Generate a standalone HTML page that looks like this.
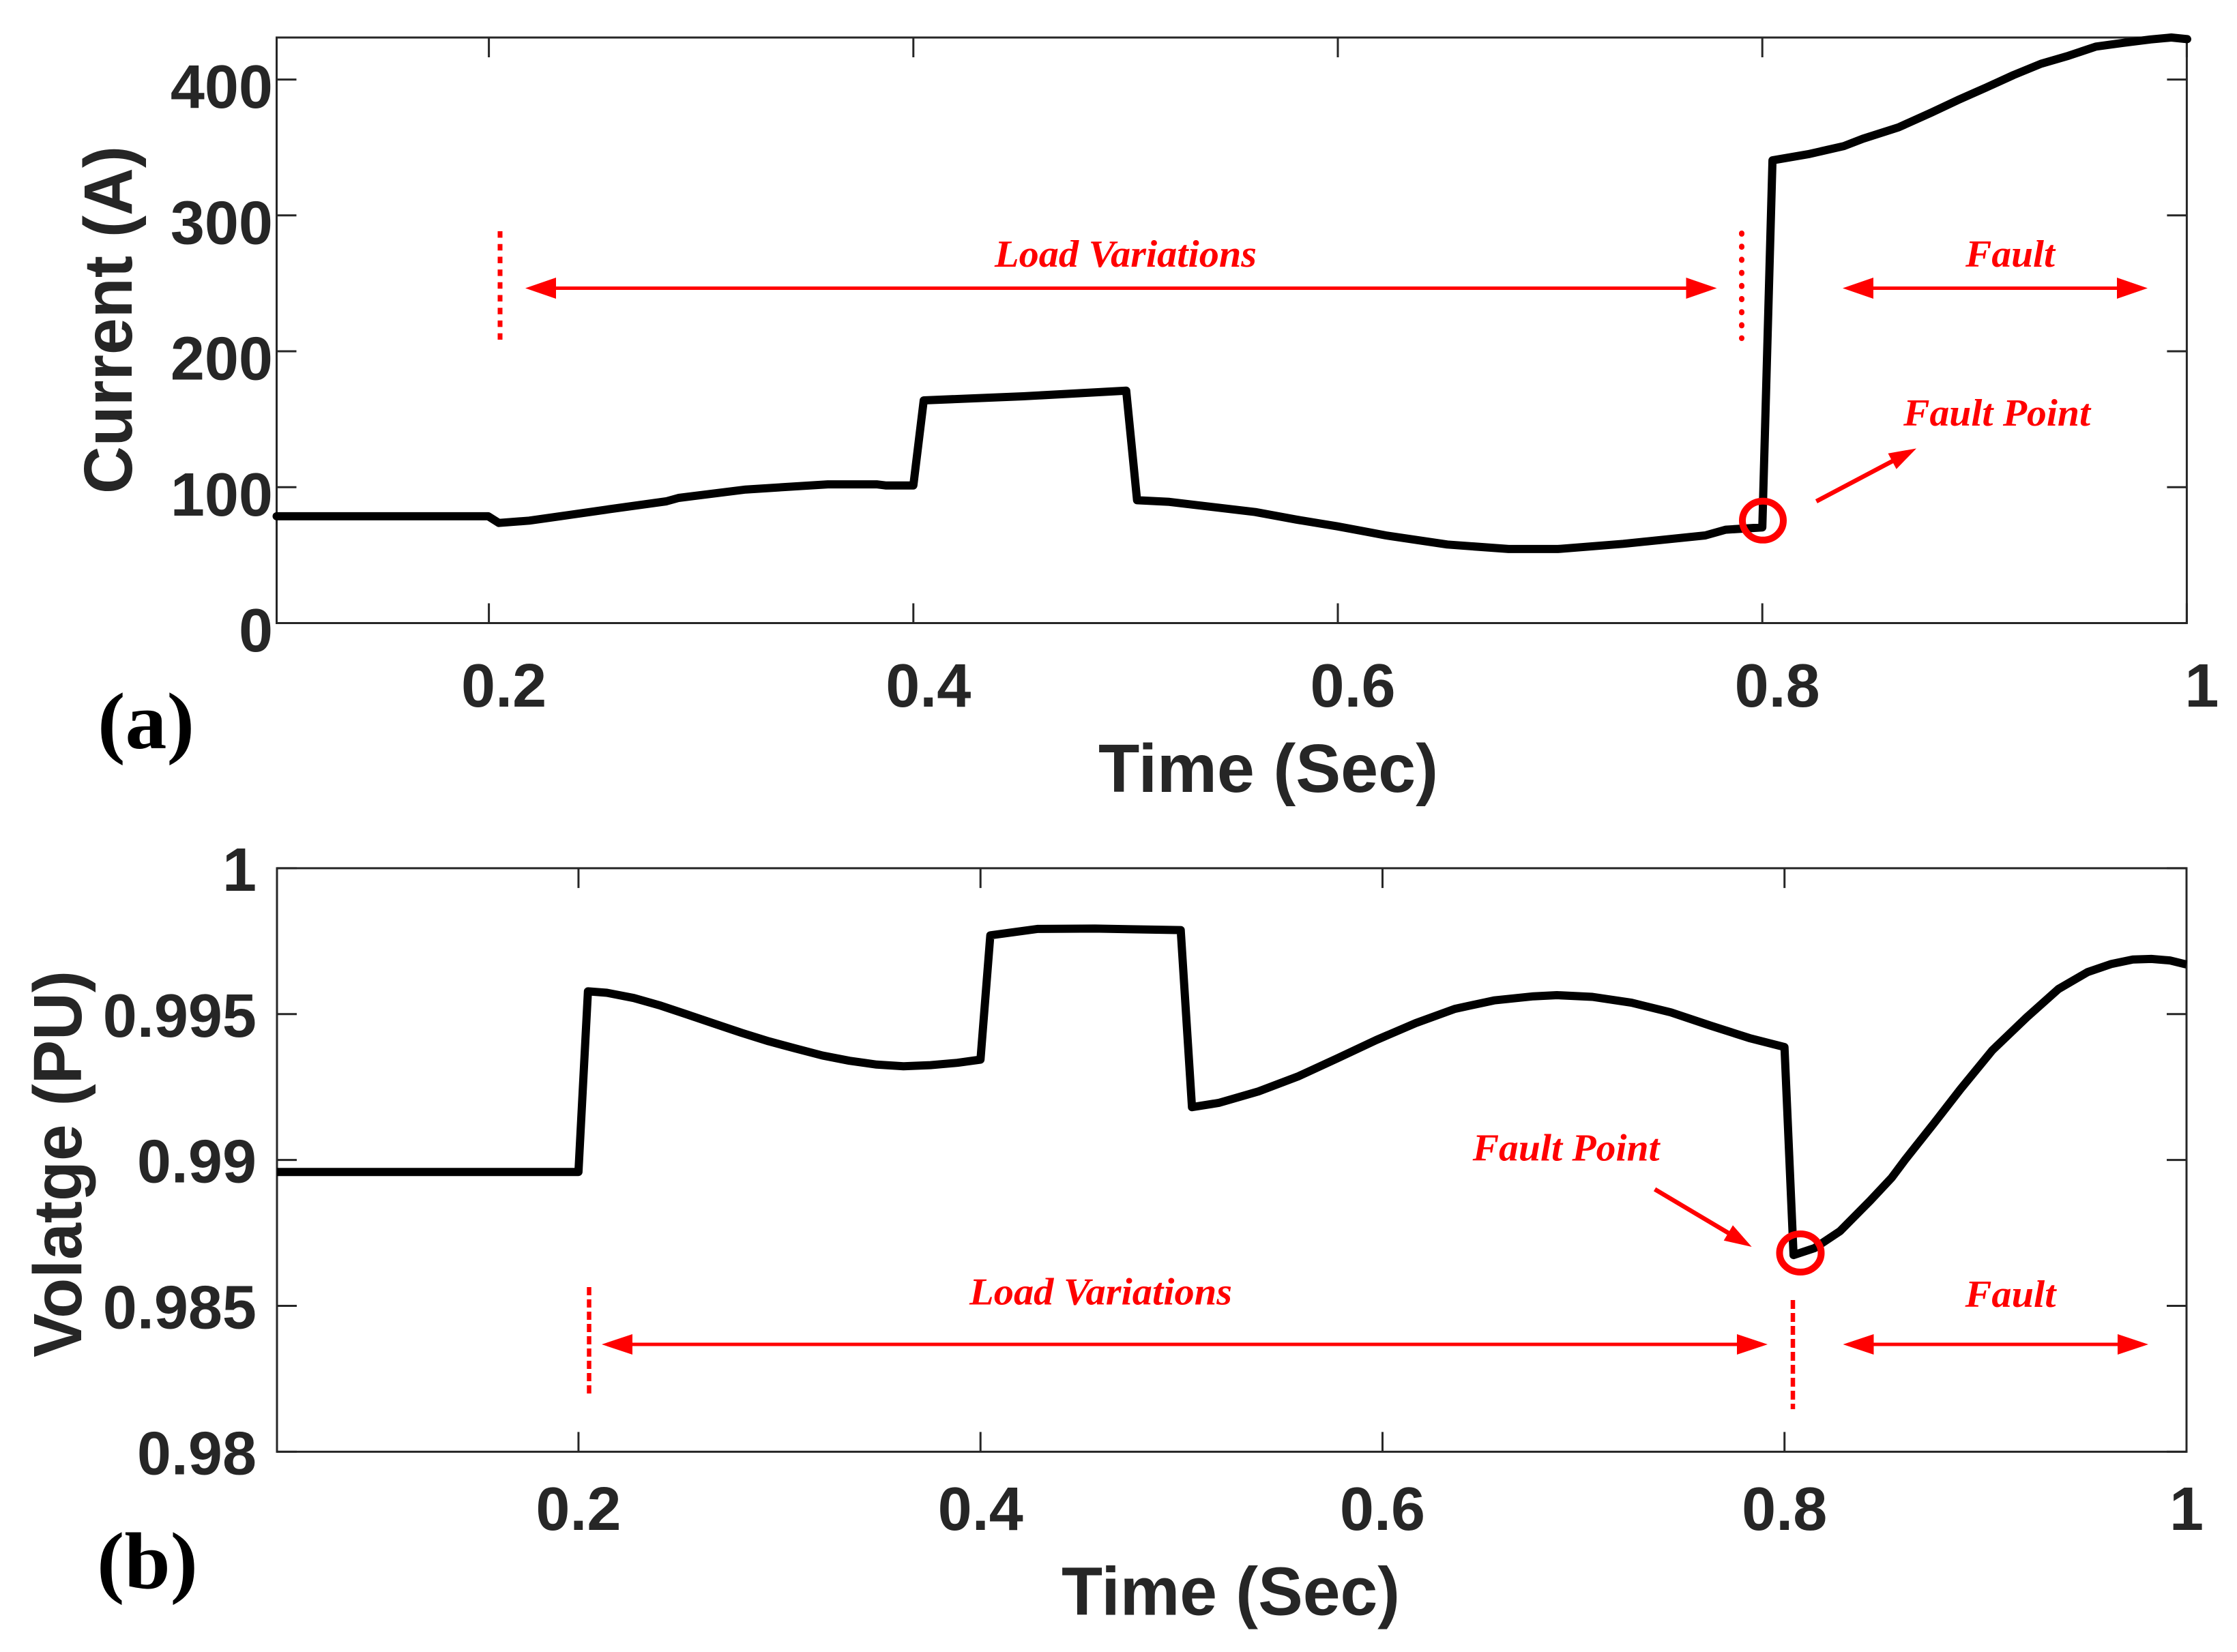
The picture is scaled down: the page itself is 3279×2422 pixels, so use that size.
<!DOCTYPE html>
<html lang="en">
<head>
<meta charset="utf-8">
<title>Current and voltage during load variations and fault</title>
<style>
  html, body { margin: 0; padding: 0; background: #fff; }
  svg { display: block; }
  .tick-label { font-family: "Liberation Sans", sans-serif; font-weight: bold; font-size: 90px; fill: #262626; }
  .axis-title { font-family: "Liberation Sans", sans-serif; font-weight: bold; font-size: 100px; fill: #262626; }
  .note { font-family: "Liberation Serif", serif; font-weight: bold; font-style: italic; font-size: 56px; fill: #ff0000; }
  .panel-tag { font-family: "Liberation Serif", serif; font-weight: bold; font-size: 118px; fill: #000; }
</style>
</head>
<body>
<svg id="figure" xmlns="http://www.w3.org/2000/svg" width="3279" height="2422" viewBox="0 0 3279 2422">
  <rect x="0" y="0" width="3279" height="2422" fill="#ffffff"/>
  <g id="panel-a"></g>
  <g id="panel-b"></g>

  <g>
    <line x1="733" y1="339" x2="733" y2="498" stroke="#f00" stroke-width="7" stroke-dasharray="9.5 9.2"/>
    <line x1="2553" y1="342" x2="2553" y2="496" stroke="#f00" stroke-width="8" stroke-linecap="round" stroke-dasharray="1 18.2"/>
    <g fill="#f00">
      <line x1="810" y1="422.5" x2="2480" y2="422.5" stroke="#f00" stroke-width="5"/>
      <polygon points="770,422.5 815,407 815,438"/>
      <polygon points="2516.5,422.5 2471.5,407 2471.5,438"/>
    </g>
    <text class="note" x="1458" y="391" textLength="384" lengthAdjust="spacingAndGlyphs">Load Variations</text>
    <g fill="#f00">
      <line x1="2740" y1="422.5" x2="3110" y2="422.5" stroke="#f00" stroke-width="5"/>
      <polygon points="2701,422.5 2746,407 2746,438"/>
      <polygon points="3148,422.5 3103,407 3103,438"/>
    </g>
    <text class="note" x="2881" y="391" textLength="131" lengthAdjust="spacingAndGlyphs">Fault</text>
    <text class="note" x="2790" y="624" textLength="274" lengthAdjust="spacingAndGlyphs">Fault Point</text>
    <g fill="#f00">
      <line x1="2662.4" y1="735" x2="2775" y2="675.5" stroke="#f00" stroke-width="6.5"/>
      <polygon points="2809,657.5 2779.7,687.7 2767.5,664.7"/>
    </g>
  </g>

  <g>
    <line x1="863.5" y1="1887" x2="863.5" y2="2046" stroke="#f00" stroke-width="6.5" stroke-dasharray="12 6"/>
    <line x1="2628" y1="1906" x2="2628" y2="2066" stroke="#f00" stroke-width="6.5" stroke-dasharray="13 6"/>
    <g fill="#f00">
      <line x1="920" y1="1971" x2="2555" y2="1971" stroke="#f00" stroke-width="5"/>
      <polygon points="882,1971 927,1956 927,1986"/>
      <polygon points="2591,1971 2546,1956 2546,1986"/>
    </g>
    <text class="note" x="1421" y="1912.5" textLength="385" lengthAdjust="spacingAndGlyphs">Load Variations</text>
    <g fill="#f00">
      <line x1="2740" y1="1971" x2="3110" y2="1971" stroke="#f00" stroke-width="5"/>
      <polygon points="2701.5,1971 2746.5,1956 2746.5,1986"/>
      <polygon points="3149,1971 3104,1956 3104,1986"/>
    </g>
    <text class="note" x="2880.5" y="1916" textLength="133" lengthAdjust="spacingAndGlyphs">Fault</text>
    <text class="note" x="2158.6" y="1701.4" textLength="274" lengthAdjust="spacingAndGlyphs">Fault Point</text>
    <g fill="#f00">
      <line x1="2425.6" y1="1743.6" x2="2536" y2="1809.2" stroke="#f00" stroke-width="6.5"/>
      <polygon points="2567.7,1828 2526.7,1818.8 2540,1796.4"/>
    </g>
  </g>

  <text class="panel-tag" x="143" y="1097" textLength="142" lengthAdjust="spacingAndGlyphs">(a)</text>
  <text class="panel-tag" x="142" y="2328" textLength="148" lengthAdjust="spacingAndGlyphs">(b)</text>
</svg>

<script>
// Panel (a): current
const currentTimes = [0.1, 0.1997, 0.2047, 0.219, 0.2377, 0.2564, 0.2836, 0.2894, 0.321, 0.3597, 0.3827, 0.3869, 0.4, 0.4049, 0.4518, 0.5003, 0.5054, 0.5206, 0.5611, 0.5803, 0.5996, 0.6131, 0.6227, 0.6516, 0.6805, 0.7037, 0.7345, 0.7731, 0.7827, 0.8, 0.8048, 0.8216, 0.8384, 0.8474, 0.8642, 0.8797, 0.8926, 0.9055, 0.9184, 0.9313, 0.9443, 0.9572, 0.9701, 0.983, 0.9927, 1.0002];
const currentValues = [78.6, 78.6, 73.7, 75.4, 79.5, 83.7, 89.6, 92.1, 98.3, 102.1, 102.1, 101.3, 101.3, 163.9, 166.9, 171, 90.4, 89.2, 81.7, 76.2, 71.2, 67.3, 64.5, 57.8, 54.5, 54.5, 58.3, 64.5, 68.7, 70.4, 340.5, 345, 351, 356.4, 364.8, 375.7, 385.2, 394.1, 403.3, 411.6, 417.5, 424.2, 427, 429.5, 430.9, 429.7];
const currentXTicks = [0.2, 0.4, 0.6, 0.8, 1];
const currentXTickLabels = ['0.2', '0.4', '0.6', '0.8', '1'];
const currentYTicks = [0, 100, 200, 300, 400];
const currentYTickLabels = ['0', '100', '200', '300', '400'];

// Panel (b): voltage
const voltageTimes = [0.05, 0.2, 0.2047, 0.2141, 0.2275, 0.2409, 0.2543, 0.2677, 0.2811, 0.2946, 0.308, 0.3214, 0.3348, 0.3483, 0.3617, 0.3751, 0.3885, 0.4, 0.4049, 0.4283, 0.4569, 0.4996, 0.5052, 0.5188, 0.5383, 0.5579, 0.5774, 0.5969, 0.6165, 0.636, 0.6555, 0.6751, 0.6868, 0.7044, 0.7239, 0.7434, 0.763, 0.7825, 0.8, 0.8045, 0.815, 0.8276, 0.8427, 0.8533, 0.8599, 0.8744, 0.8876, 0.9034, 0.9205, 0.9363, 0.9508, 0.9627, 0.9733, 0.9825, 0.9917, 1];
const voltageValues = [0.98959, 0.98959, 0.99578, 0.99573, 0.99555, 0.99529, 0.99498, 0.99467, 0.99436, 0.99407, 0.99382, 0.99358, 0.9934, 0.99327, 0.99321, 0.99325, 0.99333, 0.99344, 0.9977, 0.99792, 0.99793, 0.99788, 0.99181, 0.99196, 0.99235, 0.99286, 0.99348, 0.99411, 0.99469, 0.99518, 0.99547, 0.99561, 0.99565, 0.99559, 0.99539, 0.99506, 0.99461, 0.99418, 0.99387, 0.98674, 0.98698, 0.98756, 0.98861, 0.98939, 0.99, 0.99126, 0.99243, 0.99376, 0.99489, 0.99586, 0.99644, 0.99672, 0.99687, 0.99689, 0.99684, 0.9967];
const voltageXTicks = [0.2, 0.4, 0.6, 0.8, 1];
const voltageXTickLabels = ['0.2', '0.4', '0.6', '0.8', '1'];
const voltageYTicks = [0.98, 0.985, 0.99, 0.995, 1];
const voltageYTickLabels = ['0.98', '0.985', '0.99', '0.995', '1'];

const SVG_NS = 'http://www.w3.org/2000/svg';

function make(parent, tag, attrs, text) {
  const el = document.createElementNS(SVG_NS, tag);
  for (const k in attrs) el.setAttribute(k, attrs[k]);
  if (text !== undefined) el.textContent = text;
  parent.appendChild(el);
  return el;
}

function drawPanel(cfg) {
  const g = document.getElementById(cfg.id);
  const xScale = v => cfg.left + (v - cfg.xMin) / (cfg.xMax - cfg.xMin) * (cfg.right - cfg.left);
  const yScale = v => cfg.bottom - (v - cfg.yMin) / (cfg.yMax - cfg.yMin) * (cfg.bottom - cfg.top);
  const axisStyle = { stroke: '#262626', 'stroke-width': 3, fill: 'none' };

  cfg.xTicks.forEach((v, i) => {
    const x = xScale(v);
    const bottomTick = make(g, 'line', Object.assign({ x1: x, x2: x, y1: cfg.bottom, y2: cfg.bottom - 29 }, axisStyle));
    
    
    const topTick = make(g, 'line', Object.assign({ x1: x, x2: x, y1: cfg.top, y2: cfg.top + 29 }, axisStyle));
    
    
    const label = make(g, 'text', { x: x + cfg.xLabelShift, y: cfg.xLabelBaseline, 'text-anchor': 'middle', class: 'tick-label' }, cfg.xTickLabels[i]);
    
    
  });

  cfg.yTicks.forEach((v, i) => {
    const y = yScale(v);
    const leftTick = make(g, 'line', Object.assign({ x1: cfg.left, x2: cfg.left + 29, y1: y, y2: y }, axisStyle));
    
    
    const rightTick = make(g, 'line', Object.assign({ x1: cfg.right, x2: cfg.right - 29, y1: y, y2: y }, axisStyle));
    
    
    const label = make(g, 'text', { x: cfg.yLabelRight, y: y + cfg.yLabelDrop, 'text-anchor': 'end', class: 'tick-label' }, cfg.yTickLabels[i]);
    
    
  });

  const frame = make(g, 'rect', Object.assign({ x: cfg.left, y: cfg.top, width: cfg.right - cfg.left, height: cfg.bottom - cfg.top }, axisStyle));
  
  

  const d = cfg.times.map((t, i) => (i ? 'L' : 'M') + xScale(t).toFixed(1) + ' ' + yScale(cfg.values[i]).toFixed(1)).join(' ');
  const line = make(g, 'path', { d: d, fill: 'none', stroke: '#000', 'stroke-width': 12, 'stroke-linejoin': 'round', 'stroke-linecap': cfg.lineCap });
  
  

  const circle = make(g, 'ellipse', { cx: cfg.circleX, cy: cfg.circleY, rx: cfg.circleRx, ry: cfg.circleRy, fill: 'none', stroke: '#f00', 'stroke-width': 10 });
  
  

  const xTitle = make(g, 'text', { x: cfg.xTitleX, y: cfg.xTitleY, class: 'axis-title', textLength: cfg.xTitleLen, lengthAdjust: 'spacingAndGlyphs' }, 'Time (Sec)');
  
  

  const yTitle = make(g, 'text', { transform: 'translate(' + cfg.yTitleX + ' ' + cfg.yTitleY + ') rotate(-90)', x: 0, y: 0, class: 'axis-title', textLength: cfg.yTitleLen, lengthAdjust: 'spacingAndGlyphs' }, cfg.yTitle);
  
  
}

drawPanel({
  id: 'panel-a', lineName: 'current-line', lineCap: 'round',
  left: 405.5, right: 3205.4, top: 55, bottom: 913.5,
  xMin: 0.1, xMax: 1, yMin: 0, yMax: 430.9,
  times: currentTimes, values: currentValues,
  xTicks: currentXTicks, xTickLabels: currentXTickLabels,
  yTicks: currentYTicks, yTickLabels: currentYTickLabels,
  xLabelShift: 22, xLabelBaseline: 1036,
  yLabelRight: 400, yLabelDrop: 41.5,
  circleX: 2584, circleY: 763.3, circleRx: 30, circleRy: 28.5,
  xTitleX: 1610, xTitleY: 1161, xTitleLen: 498,
  yTitle: 'Current (A)', yTitleX: 193, yTitleY: 724, yTitleLen: 510
});

drawPanel({
  id: 'panel-b', lineName: 'voltage-line', lineCap: 'butt',
  left: 406, right: 3205, top: 1272.9, bottom: 2128.4,
  xMin: 0.05, xMax: 1, yMin: 0.98, yMax: 1,
  times: voltageTimes, values: voltageValues,
  xTicks: voltageXTicks, xTickLabels: voltageXTickLabels,
  yTicks: voltageYTicks, yTickLabels: voltageYTickLabels,
  xLabelShift: 0, xLabelBaseline: 2243,
  yLabelRight: 376, yLabelDrop: 33,
  circleX: 2639, circleY: 1837, circleRx: 30.5, circleRy: 28,
  xTitleX: 1556, xTitleY: 2367.5, xTitleLen: 496,
  yTitle: 'Volatge (PU)', yTitleX: 119, yTitleY: 1990, yTitleLen: 567
});
</script>
</body>
</html>
